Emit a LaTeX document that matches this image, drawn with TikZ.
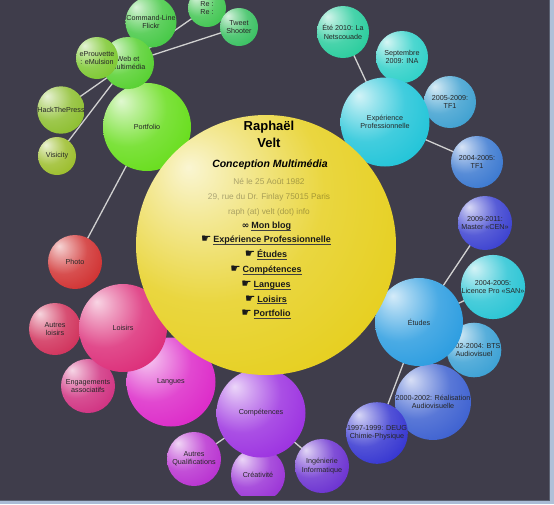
\documentclass[tikz,border=0pt]{standalone}
\usepackage{fontspec}
\setmainfont{Liberation Sans}
\newfontfamily\dejavu{DejaVu Sans}
\definecolor{bg}{HTML}{3F3D4B}
\definecolor{cYel}{HTML}{E6CF1E}
\definecolor{cPort}{HTML}{66DD1A}
\definecolor{cWeb}{HTML}{55D02E}
\definecolor{cFlickr}{HTML}{44C844}
\definecolor{cRe}{HTML}{3FC550}
\definecolor{cTweet}{HTML}{38C060}
\definecolor{cEprouv}{HTML}{7CC830}
\definecolor{cHack}{HTML}{8CBE2E}
\definecolor{cVisi}{HTML}{9BBD2A}
\definecolor{cPhoto}{HTML}{D03030}
\definecolor{cLoisirs}{HTML}{DC2C78}
\definecolor{cAutresL}{HTML}{D0305A}
\definecolor{cEngag}{HTML}{D03080}
\definecolor{cLangues}{HTML}{DC28C8}
\definecolor{cComp}{HTML}{9B30E0}
\definecolor{cAutQ}{HTML}{B830D0}
\definecolor{cCrea}{HTML}{9A32D6}
\definecolor{cIng}{HTML}{6A30D0}
\definecolor{cDeug}{HTML}{3434D0}
\definecolor{cReal}{HTML}{3C60D0}
\definecolor{cEtudes}{HTML}{2A9CE0}
\definecolor{cBts}{HTML}{3AA0D4}
\definecolor{cLic}{HTML}{28C4D4}
\definecolor{cMaster}{HTML}{3A40D0}
\definecolor{cExp}{HTML}{20C4D8}
\definecolor{cEte}{HTML}{28CC9C}
\definecolor{cIna}{HTML}{2ED0C8}
\definecolor{cTfa}{HTML}{3EA0D0}
\definecolor{cTfb}{HTML}{3A78D0}
\colorlet{bcol}{red}
\pgfdeclareradialshading[bcol]{bubble}{\pgfqpoint{-15bp}{15bp}}{color(0bp)=(bcol!20!white); color(8bp)=(bcol!45!white); color(22bp)=(bcol!85!white); color(38bp)=(bcol); color(62bp)=(bcol!88!black); color(80bp)=(bcol!80!black)}
\newsavebox\lkbox
\newcommand\lk[1]{\sbox\lkbox{#1}\rlap{\color{black!75}\rule[-2.2pt]{\wd\lkbox}{0.9pt}}\usebox\lkbox}
\newcommand\hand{{\dejavu\fontsize{11.5}{12}\selectfont ☛}\hspace{2pt}}
\tikzset{
  bub/.style 2 args={circle, inner sep=0pt, minimum size=#1, /utils/exec={\colorlet{bcol}{#2}}, shading=bubble, font=\fontsize{7.2}{8.3}\selectfont, align=center, text=black!85},
  conn/.style={draw=black!18, line width=1.3pt},
  lnk/.style={anchor=base, font=\fontsize{9}{10}\selectfont\bfseries, text=black!90},
  blur/.style={anchor=base, font=\fontsize{8.3}{10}\selectfont, text=black, text opacity=0.3},
}
\begin{document}
\begin{tikzpicture}[x=1pt,y=-1pt]
\fill[bg] (0,0) rectangle (554,504);
\useasboundingbox (0,0) rectangle (554,504);
\begin{scope}
\clip (0,0) rectangle (549,495);
% coordinates for connectors
\coordinate (cWebC) at (128,63);
\coordinate (cPortC) at (147,127);
\coordinate (cExpC) at (385,122);
\coordinate (cEtuC) at (419,322);
\coordinate (cCompC) at (261,413);
% small bubbles (placeholders for connector ends)
\coordinate (flickr) at (151,22);
\coordinate (re) at (207,8);
\coordinate (tweet) at (239,27);
\coordinate (hack) at (61,110);
\coordinate (visi) at (57,156);
\coordinate (photo) at (75,262);
\draw[conn] (cWebC) -- (flickr);
\draw[conn] (cWebC) -- (re);
\draw[conn] (cWebC) -- (tweet);
\draw[conn] (cWebC) -- (hack);
\draw[conn] (cWebC) -- (visi);
\draw[conn] (cPortC) -- (photo);
\node[bub={38pt}{cFlickr}] (nflickr) at (flickr) {Command-Line\\Flickr};
\node[bub={38pt}{cRe}] (nre) at (re) {Re :\\Re :};
\node[bub={38pt}{cTweet}] (ntweet) at (tweet) {Tweet\\Shooter};
\node[bub={38pt}{cHack}] (nhack) at (hack) {HackThePress};
\node[bub={38pt}{cVisi}] (nvisi) at (visi) {Visicity};
\node[bub={54pt}{cPhoto}] (nphoto) at (photo) {Photo};
% Experience
\coordinate (ete) at (343,32);
\coordinate (tfb) at (477,162);
\draw[conn] (cExpC) -- (ete);
\draw[conn] (cExpC) -- (tfb);
\node[bub={52pt}{cEte}] (nete) at (ete) {Été 2010: La\\Netscouade};
\node[bub={52pt}{cTfb}] (ntfb) at (tfb) {2004-2005:\\TF1};
\node[bub={52pt}{cIna}] (ina) at (402,57) {Septembre\\2009: INA};
\node[bub={52pt}{cTfa}] (tfa) at (450,102) {2005-2009:\\TF1};
\node[bub={89pt}{cExp}] (exp) at (cExpC) {Expérience\\Professionnelle};
% Etudes
\coordinate (master) at (485,223);
\coordinate (lic) at (493,287);
\coordinate (real) at (433,402);
\coordinate (deug) at (377,433);
\draw[conn] (cEtuC) -- (master);
\draw[conn] (cEtuC) -- (lic);
\draw[conn] (cEtuC) -- (real);
\draw[conn] (cEtuC) -- (deug);
\node[bub={54pt}{cMaster}] (nmaster) at (master) {2009-2011:\\Master «CEN»};
\node[bub={54pt}{cLic}] (nlic) at (lic) {2004-2005:\\Licence Pro «SAN»};
\node[bub={54pt}{cReal}] (nreal) at (real) {2000-2002: Réalisation\\Audiovisuelle};
\node[bub={54pt}{cDeug}] (ndeug) at (deug) {1997-1999: DEUG\\Chimie-Physique};
\node[bub={54pt}{cBts}] (bts) at (474,350) {2002-2004: BTS\\Audiovisuel};
\node[bub={88pt}{cEtudes}] (etudes) at (cEtuC) {Études};
% Competences
\coordinate (autq) at (194,459);
\coordinate (ing) at (322,466);
\draw[conn] (cCompC) -- (autq);
\draw[conn] (cCompC) -- (ing);
\node[bub={54pt}{cAutQ}] (nautq) at (autq) {Autres\\Qualifications};
\node[bub={54pt}{cIng}] (ning) at (ing) {Ingénierie\\Informatique};
\node[bub={54pt}{cCrea}] (crea) at (258,475) {Créativité};
\node[bub={89pt}{cComp}] (comp) at (cCompC) {Compétences};
% Loisirs / Langues
\node[bub={52pt}{cAutresL}] (autl) at (55,329) {Autres\\loisirs};
\node[bub={54pt}{cEngag}] (engag) at (88,386) {Engagements\\associatifs};
\node[bub={89pt}{cLangues}] (langues) at (171,382) {Langues};
\node[bub={88pt}{cLoisirs}] (loisirs) at (123,328) {Loisirs};
% Portfolio / Web
\node[bub={88pt}{cPort}] (port) at (cPortC) {Portfolio};
\node[bub={52pt}{cWeb}] (web) at (cWebC) {Web et\\Multimédia};
\node[bub={42pt}{cEprouv}] (eprouv) at (97,58) {eProuvette\\: eMulsion};
% main bubble
\node[bub={260pt}{cYel}] (main) at (266,245) {};
\end{scope}
% main texts
\node[anchor=base, font=\fontsize{13}{15}\selectfont\bfseries] (t1) at (269,130.7) {Raphaël};
\node[anchor=base, font=\fontsize{13}{15}\selectfont\bfseries] (t2) at (269,147.4) {Velt};
\node[anchor=base, font=\fontsize{10.5}{12}\selectfont\bfseries\itshape] (t3) at (270,167.8) {Conception Multimédia};
\node[blur] (b1) at (269,184.7) {Né le 25 Août 1982};
\node[blur] (b2) at (269,199.7) {29, rue du Dr. Finlay 75015 Paris};
\node[blur] (b3) at (269,214) {raph (at) velt (dot) info};
\node[lnk] (l0) at (266.5,228.5) {{\dejavu\fontsize{9}{10}\selectfont ∞}\hspace{2pt}\lk{Mon blog}};
\node[lnk] (l1) at (266,242.5) {\hand\lk{Expérience Professionnelle}};
\node[lnk] (l2) at (266,257.2) {\hand\lk{Études}};
\node[lnk] (l3) at (266,272.5) {\hand\lk{Compétences}};
\node[lnk] (l4) at (266,287.2) {\hand\lk{Langues}};
\node[lnk] (l5) at (266,302) {\hand\lk{Loisirs}};
\node[lnk] (l6) at (266,316.5) {\hand\lk{Portfolio}};
% window borders
\fill[fill={rgb,255:red,170;green,188;blue,214}] (0,500) rectangle (554,504);
\draw[draw={rgb,255:red,90;green,96;blue,112}, line width=0.8pt] (0,500) -- (549.5,500);
\fill[fill={rgb,255:red,176;green,192;blue,216}] (550,0) rectangle (554,504);
\draw[draw={rgb,255:red,90;green,96;blue,112}, line width=0.8pt] (549.5,0) -- (549.5,500);
\end{tikzpicture}
\end{document}
